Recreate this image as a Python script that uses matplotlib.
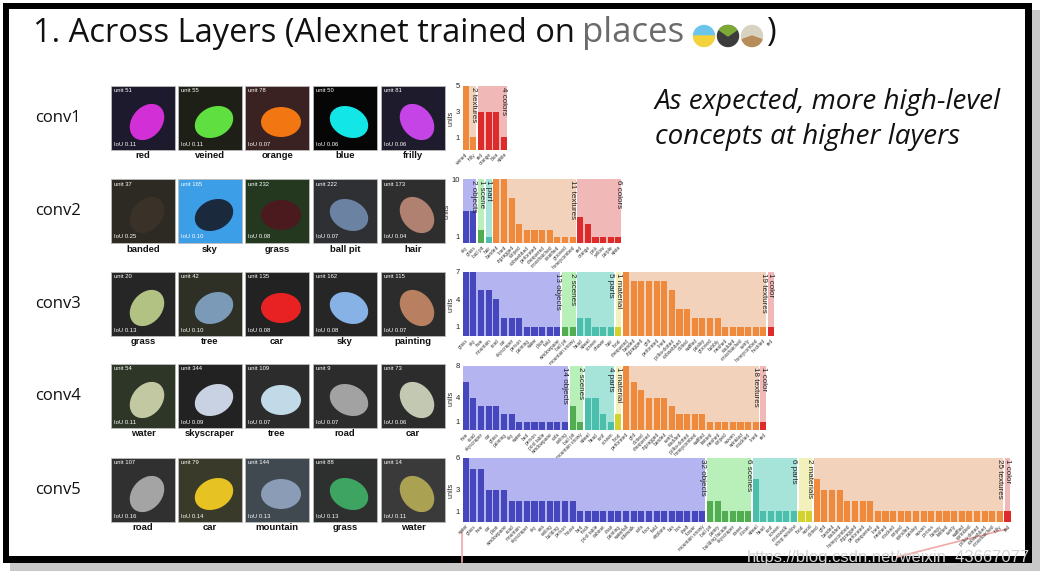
import numpy as np
import matplotlib.pyplot as plt
from matplotlib.patches import Rectangle, Ellipse, Wedge

plt.rcParams['font.family'] = ['Open Sans', 'DejaVu Sans']

W, H = 1044, 578

# ---- data ----
layers = ['conv1', 'conv2', 'conv3', 'conv4', 'conv5']

conv1_groups = ['texture', 'color']
conv1_labels = [['veined', 'frilly'], ['red', 'orange', 'blue', 'white']]
conv1_units = [[5, 1], [3, 3, 3, 1]]

conv2_groups = ['object', 'scene', 'part', 'texture', 'color']
conv2_labels = [['sky', 'grass'], ['ball pit'], ['hair'],
                ['banded', 'lined', 'zigzagged', 'striped', 'cobwebbed', 'perforated',
                 'chequered', 'crosshatched', 'stratified', 'grooved', 'honeycombed'],
                ['red', 'orange', 'pink', 'yellow', 'purple', 'white']]
conv2_units = [[5, 5], [2], [1], [10, 10, 7, 3, 2, 2, 2, 2, 1, 1, 1], [4, 3, 1, 1, 1, 1]]

conv3_groups = ['object', 'scene', 'part', 'material', 'texture', 'color']
conv3_labels = [['grass', 'sky', 'tree', 'mountain', 'road', 'car', 'skyscraper', 'person',
                 'painting', 'water', 'plant', 'field', 'windowpane'],
                ['ball pit', 'mountain snowy'],
                ['head', 'wheel', 'screen', 'drawer', 'hair'],
                ['food'],
                ['chequered', 'banded', 'zigzagged', 'grid', 'perforated', 'lined',
                 'polka-dotted', 'cobwebbed', 'dotted', 'waffled', 'paisley', 'grooved',
                 'bubbly', 'meshed', 'studded', 'crosshatched', 'swirly', 'honeycombed',
                 'freckled'],
                ['red']]
conv3_units = [[7, 7, 5, 5, 4, 2, 2, 2, 1, 1, 1, 1, 1], [1, 1], [2, 2, 1, 1, 1], [1],
               [7, 6, 6, 6, 6, 6, 5, 3, 3, 2, 2, 2, 2, 1, 1, 1, 1, 1, 1], [1]]

conv4_groups = ['object', 'scene', 'part', 'material', 'texture', 'color']
conv4_labels = [['tree', 'road', 'skyscraper', 'car', 'grass', 'painting', 'sky', 'water',
                 'bed', 'person', 'pool table', 'windowpane', 'sofa', 'ceiling'],
                ['ball pit', 'mountain snowy'],
                ['wheel', 'head', 'roof', 'screen'],
                ['food'],
                ['perforated', 'grid', 'dotted', 'chequered', 'zigzagged', 'banded',
                 'swirly', 'studded', 'polka-dotted', 'honeycombed', 'waffled', 'knitted',
                 'meshed', 'striped', 'woven', 'wrinkled', 'crackled', 'lined'],
                ['red']]
conv4_units = [[6, 4, 3, 3, 3, 2, 2, 1, 1, 1, 1, 1, 1, 1], [3, 1], [4, 4, 2, 1], [2],
               [8, 6, 5, 4, 4, 4, 3, 2, 2, 2, 2, 1, 1, 1, 1, 1, 1, 1], [1]]

conv5_groups = ['object', 'scene', 'part', 'material', 'texture', 'color']
conv5_labels = [['water', 'grass', 'tree', 'car', 'plant', 'windowpane', 'road', 'mountain',
                 'skyscraper', 'sky', 'sea', 'ceiling', 'building', 'person', 'house',
                 'bed', 'track', 'pool table', 'cabinet', 'chair', 'painting', 'waterfall',
                 'sidewalk', 'sofa', 'floor', 'field', 'airplane', 'bus', 'box', 'shelf',
                 'flower', 'mountain snowy'],
                ['ball pit', 'pantry', 'building facade', 'skyscraper', 'street', 'closet'],
                ['wheel', 'head', 'roof', 'screen', 'crosswalk', 'shop window'],
                ['food', 'wood'],
                ['dotted', 'grid', 'banded', 'studded', 'honeycombed', 'zigzagged',
                 'perforated', 'chequered', 'lined', 'meshed', 'cracked', 'striped',
                 'spiralled', 'paisley', 'woven', 'porous', 'bumpy', 'knitted',
                 'swirly', 'waffled', 'sprinkled', 'polka-dotted', 'cobwebbed',
                 'crosshatched', 'frilly'],
                ['red']]
conv5_units = [[6, 5, 5, 3, 3, 3, 2, 2, 2, 2, 2, 2, 2, 2, 2] + [1] * 17,
               [2, 2, 1, 1, 1, 1], [4, 1, 1, 1, 1, 1], [1, 1],
               [4, 3, 3, 3, 2, 2, 2, 2] + [1] * 17, [1]]

layer_groups = [conv1_groups, conv2_groups, conv3_groups, conv4_groups, conv5_groups]
layer_labels = [conv1_labels, conv2_labels, conv3_labels, conv4_labels, conv5_labels]
layer_units = [conv1_units, conv2_units, conv3_units, conv4_units, conv5_units]
layer_yticks = [[1, 3, 5], [1, 10], [1, 4, 7], [1, 4, 8], [1, 3, 6]]

thumb_names = [['red', 'veined', 'orange', 'blue', 'frilly'],
               ['banded', 'sky', 'grass', 'ball pit', 'hair'],
               ['grass', 'tree', 'car', 'sky', 'painting'],
               ['water', 'skyscraper', 'tree', 'road', 'car'],
               ['road', 'car', 'mountain', 'grass', 'water']]
thumb_units = [[51, 55, 78, 50, 81], [37, 165, 232, 222, 173], [20, 42, 135, 162, 115],
               [54, 344, 109, 9, 73], [107, 79, 144, 88, 14]]
thumb_iou = [[0.11, 0.11, 0.07, 0.06, 0.06], [0.25, 0.10, 0.08, 0.07, 0.04],
             [0.13, 0.10, 0.08, 0.08, 0.07], [0.11, 0.09, 0.07, 0.07, 0.06],
             [0.16, 0.14, 0.13, 0.13, 0.11]]

# ---- styles ----
bar_col = {'object': '#4646bd', 'scene': '#52ad52', 'part': '#4bbfac',
           'material': '#d2d12e', 'texture': '#ef8a3c', 'color': '#dd2b2b'}
span_col = {'object': '#b4b4f0', 'scene': '#b9efb9', 'part': '#a6e4da',
            'material': '#f2f0bb', 'texture': '#f3d2bb', 'color': '#f1b8b8'}
plural = {'object': 'objects', 'scene': 'scenes', 'part': 'parts',
          'material': 'materials', 'texture': 'textures', 'color': 'colors'}

thumb_bg = [['#1c1a2c', '#1e2018', '#3a2222', '#060606', '#1e1c2c'],
            ['#2c2a22', '#3c9ee6', '#23381f', '#2e3034', '#2e2e2e'],
            ['#262626', '#2e3026', '#222222', '#262626', '#2c2c2c'],
            ['#2e3628', '#222222', '#2c2c2c', '#2c2c2c', '#2c2c2c'],
            ['#303030', '#3a3a2a', '#404850', '#2e3030', '#3a3a3a']]
thumb_blob = [['#d22fd6', '#5fe040', '#f27612', '#12e6e6', '#c444e6'],
              ['#3a3228', '#1a2a3c', '#4a1a1e', '#6c82a2', '#b08070'],
              ['#b2c282', '#7a9ab8', '#e82222', '#86b2e6', '#b88060'],
              ['#c2c8a2', '#c8d2e2', '#c2dae8', '#a2a2a2', '#c2c8b2'],
              ['#a4a4a4', '#e6c222', '#8a9cb6', '#3ea462', '#aaa252']]

fig = plt.figure(figsize=(W / 100, H / 100), dpi=100)
bg = fig.add_axes([0, 0, 1, 1])
bg.set_xlim(0, W)
bg.set_ylim(H, 0)
bg.axis('off')

# slide frame with shadow
bg.add_patch(Rectangle((1032, 10), 8, 556, color='#c8c8c8', lw=0))
bg.add_patch(Rectangle((10, 563), 1030, 8, color='#c8c8c8', lw=0))
for r in [(3, 3, 6, 560), (3, 3, 1029, 6), (1025, 3, 7, 560), (3, 556, 1029, 7)]:
    bg.add_patch(Rectangle(r[:2], r[2], r[3], color='black', lw=0))

# title
bg.text(33, 33, '1. Across Layers (Alexnet trained on', fontsize=23.5, va='center',
        color='#111111')
bg.text(582, 33, 'places', fontsize=25, va='center', color='#6b6b6b')
cx = [704, 728, 752]
bg.add_patch(Wedge((cx[0], 36), 10.5, 180, 360, color='#6cc5ec'))
bg.add_patch(Wedge((cx[0], 36), 10.5, 0, 180, color='#f4d23c'))
bg.add_patch(Wedge((cx[1], 36), 10.5, 0, 360, color='#3c3c3c'))
bg.add_patch(Wedge((cx[1], 36), 10.5, 215, 325, color='#7caa34'))
bg.add_patch(Wedge((cx[2], 36), 10.5, 0, 360, color='#d8d2c2'))
bg.add_patch(Wedge((cx[2], 36), 10.5, 20, 160, color='#b88c58'))
bg.text(766, 33, ')', fontsize=23.5, va='center', color='#111111')

bg.text(655, 102, 'As expected, more high-level', fontsize=20, style='italic',
        va='center', color='#111111')
bg.text(655, 137, 'concepts at higher layers', fontsize=20, style='italic',
        va='center', color='#111111')

# thumbnails
thumb_x = [111, 178, 245, 313, 381]
row_top = [86, 179, 272, 364, 458]
tw = 64
for i, layer in enumerate(layers):
    y0 = row_top[i]
    bg.text(35, y0 + 32, layer, fontsize=12, va='center', color='#111111')
    for j in range(5):
        x0 = thumb_x[j]
        bg.add_patch(Rectangle((x0, y0), tw, tw, facecolor=thumb_bg[i][j],
                               edgecolor='#bbbbbb', lw=0.6))
        bg.add_patch(Ellipse((x0 + 36, y0 + 36), 40, 30, angle=25 * (j - 2),
                             color=thumb_blob[i][j], lw=0))
        bg.text(x0 + 3, y0 + 5, 'unit %d' % thumb_units[i][j], fontsize=4.2,
                color='white', va='center', family='Liberation Sans')
        bg.text(x0 + 3, y0 + tw - 6, 'IoU %.2f' % thumb_iou[i][j], fontsize=4.2,
                color='white', va='center', family='Liberation Sans')
        bg.text(x0 + tw / 2, y0 + tw + 6, thumb_names[i][j], fontsize=6.8,
                fontweight='bold', ha='center', va='center', color='#111111',
                family='Liberation Sans')

# bar charts
bar_px = 7.63
chart_x0 = 462
chart_h = 64
for i in range(5):
    groups = layer_groups[i]
    labels = sum(layer_labels[i], [])
    units = sum(layer_units[i], [])
    n = len(units)
    y0 = row_top[i] if i != 3 else 366
    ax = fig.add_axes([chart_x0 / W, 1 - (y0 + chart_h) / H,
                       n * bar_px / W, chart_h / H])
    ymax = max(units)
    start = 0
    for g, gl, gu in zip(groups, layer_labels[i], layer_units[i]):
        idx = np.arange(start, start + len(gu))
        ax.axvspan(start - 0.5 + 0.12, start + len(gu) - 0.5 - 0.12, ymin=0, ymax=1,
                   color=span_col[g], lw=0, zorder=0)
        ax.bar(idx, gu, width=0.8, color=bar_col[g], zorder=2)
        name = g if len(gu) == 1 else plural[g]
        ax.text(start + len(gu) - 0.55, ymax * 0.985, '%d %s' % (len(gu), name),
                rotation=270, ha='right', va='top', fontsize=5.8, color='#222222',
                family='Liberation Sans', zorder=3)
        start += len(gu)
    ax.set_xlim(-0.5, n - 0.5)
    ax.set_ylim(0, ymax)
    ax.set_xticks(np.arange(n))
    ax.set_xticklabels(labels, rotation=45, ha='right', rotation_mode='anchor',
                       fontsize=3.4, family='Liberation Sans', color='#333333')
    ax.set_yticks(layer_yticks[i])
    ax.set_yticklabels([str(t) for t in layer_yticks[i]], fontsize=5.5,
                       family='Liberation Sans', color='#222222')
    ax.tick_params(length=0, pad=1.5)
    ax.set_ylabel('units', fontsize=5, family='Liberation Sans', labelpad=1,
                  color='#222222')
    for s in ax.spines.values():
        s.set_visible(False)

# stray annotation lines and watermark from the screenshot
bg.plot([462, 462], [533, 562], color='#f0a8a8', lw=1.2)
bg.plot([897, 1007], [557, 529], color='#f0a8a8', lw=1.2)
bg.text(1030, 557, 'https://blog.csdn.net/weixin_43667077', fontsize=12,
        ha='right', va='center', color='#d4d4d4', family='Liberation Sans')

fig.savefig('out.png', dpi=100)
